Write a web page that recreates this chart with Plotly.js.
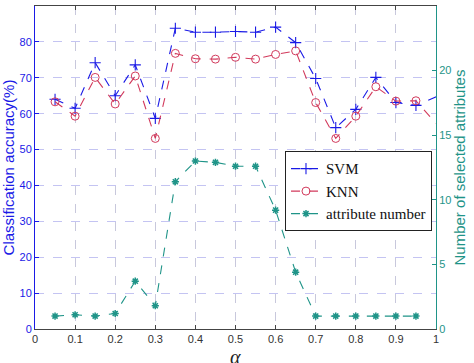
<!DOCTYPE html>
<html>
<head>
<meta charset="utf-8">
<script src="https://cdn.plot.ly/plotly-3.0.1.min.js"></script>
<style>
html,body{margin:0;padding:0;background:#fff;}
#chart{width:474px;height:363px;}
</style>
</head>
<body>
<div id="chart"></div>
<script>
// Data
const alphaAcc = [0.05,0.1,0.15,0.2,0.25,0.3,0.35,0.4,0.45,0.5,0.55,0.6,0.65,0.7,0.75,0.8,0.85,0.9,0.95,1.05];
const svmAcc = [64.0,61.5,74.2,65.0,73.6,58.7,83.8,82.7,82.7,82.9,82.7,84.1,79.8,69.8,56.1,61.2,70.1,63.1,62.3,67.1];
const knnAcc = [63.3,59.3,70.1,62.7,70.5,53.1,76.8,75.3,75.2,75.7,75.2,76.5,77.5,63.1,53.1,59.3,67.5,63.5,63.6,51.0];
const alphaAttr = [0.05,0.1,0.15,0.2,0.25,0.3,0.35,0.4,0.45,0.5,0.55,0.6,0.65,0.7,0.75,0.8,0.85,0.9,0.95];
const attrNum = [1.0,1.1,1.0,1.2,3.7,1.8,11.4,13.0,12.9,12.6,12.6,9.2,4.4,1.0,1.0,1.0,1.0,1.0,1.0];
const xTicks = [0,0.1,0.2,0.3,0.4,0.5,0.6,0.7,0.8,0.9,1];
const xTickText = ['0','0.1','0.2','0.3','0.4','0.5','0.6','0.7','0.8','0.9','1'];

const blue = '#1a1ae6';
const red = '#d23a5c';
const teal = '#1f9488';

const traces = [
  {x: alphaAcc, y: svmAcc, name: 'SVM', type: 'scatter', mode: 'lines+markers',
   line: {color: blue, width: 1.1, dash: 'dash'},
   marker: {symbol: 'cross-thin-open', size: 8, color: blue, line: {color: blue, width: 1.1}}},
  {x: alphaAcc, y: knnAcc, name: 'KNN', type: 'scatter', mode: 'lines+markers',
   line: {color: red, width: 1.1, dash: 'dash'},
   marker: {symbol: 'circle-open', size: 8, color: red, line: {color: red, width: 1}}},
  {x: alphaAttr, y: attrNum, name: 'attribute number', type: 'scatter', mode: 'lines+markers', yaxis: 'y2',
   line: {color: teal, width: 1.1, dash: 'dash'},
   marker: {symbol: 'asterisk-open', size: 6, color: teal, line: {color: teal, width: 1.5}}}
];

const layout = {
  width: 474, height: 363,
  margin: {l: 35, r: 38, t: 6, b: 34},
  paper_bgcolor: '#fff', plot_bgcolor: '#fff',
  font: {family: 'Liberation Sans', size: 11},
  showlegend: true,
  legend: {x: 0.99, y: 0.55, xanchor: 'right', yanchor: 'top', xref: 'paper', yref: 'paper',
    bgcolor: '#fff', bordercolor: '#222', borderwidth: 1,
    font: {family: 'Liberation Serif', size: 15, color: '#111'},
    tracegroupgap: 0, itemwidth: 30},
  xaxis: {range: [0, 1], tickvals: xTicks, ticktext: xTickText,
    showline: true, linecolor: '#444', linewidth: 1, mirror: 'ticks',
    ticks: 'inside', ticklen: 4, tickcolor: '#444',
    showgrid: true, gridcolor: '#c8c8dc', griddash: 'dash', gridwidth: 1,
    zeroline: false, tickfont: {color: '#333', size: 11}},
  annotations: [{text: 'α', xref: 'paper', yref: 'paper', x: 0.5, y: -0.0464, xanchor: 'center', yanchor: 'top', showarrow: false,
    font: {family: 'Liberation Serif', size: 20, color: '#222', style: 'italic'}}],
  yaxis: {range: [0, 90], dtick: 10,
    showline: true, linecolor: blue, linewidth: 1,
    ticks: 'inside', ticklen: 4, tickcolor: blue,
    showgrid: true, gridcolor: '#c4c4f2', griddash: 'dash', gridwidth: 1,
    zeroline: false, tickfont: {color: blue, size: 11},
    title: {text: 'Classification accuracy(%)', font: {color: blue, size: 15}, standoff: 6}},
  yaxis2: {range: [0, 25], dtick: 5, overlaying: 'y', side: 'right',
    showline: true, linecolor: teal, linewidth: 1,
    ticks: 'inside', ticklen: 4, tickcolor: teal,
    showgrid: false, zeroline: false, tickfont: {color: teal, size: 11},
    title: {text: 'Number of selected attributes', font: {color: teal, size: 15}, standoff: 4}}
};

Plotly.newPlot('chart', traces, layout, {displayModeBar: false, staticPlot: true});
</script>
</body>
</html>
